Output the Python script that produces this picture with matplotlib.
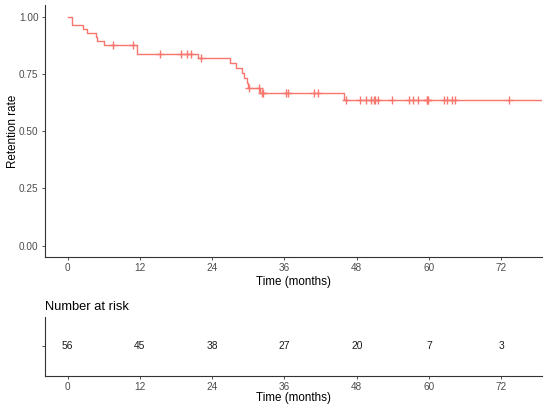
import matplotlib.pyplot as plt
import numpy as np

plt.rcParams['font.family'] = ['Liberation Sans', 'DejaVu Sans']

# Kaplan-Meier steps
step_time = [0, 0.8, 2.5, 3.2, 4.7, 4.9, 6.1, 11.5, 21.7, 27.0, 28.0, 29.0,
             29.35, 29.7, 30.0, 31.9, 45.8, 79.0]
step_surv = [1.0, 0.964, 0.946, 0.929, 0.911, 0.893, 0.875, 0.838, 0.818,
             0.797, 0.775, 0.754, 0.732, 0.711, 0.689, 0.666, 0.637, 0.637]

censor_time = [7.5, 10.9, 15.3, 18.9, 19.8, 20.5, 22.1, 30.1, 31.8, 32.3,
               32.5, 36.2, 36.6, 40.9, 41.5, 46.2, 48.6, 49.5, 50.3, 50.8,
               51.0, 51.6, 53.8, 56.7, 57.4, 58.1, 59.6, 59.7, 59.9, 62.5,
               63.0, 63.8, 64.3, 73.2]

risk_time = [0, 12, 24, 36, 48, 60, 72]
risk_n = [56, 45, 38, 27, 20, 7, 3]

col = '#F8766D'
W, H = 550, 407
fig = plt.figure(figsize=(W / 100, H / 100), dpi=100)

def box(l, t, r, b):
    return [l / W, 1 - b / H, (r - l) / W, (b - t) / H]

xlim = (-3.8, 78.7)

ax = fig.add_axes(box(44.7, 5.2, 541.7, 257.1))
ax.plot(step_time, step_surv, drawstyle='steps-post', color=col, lw=1.0)
idx = np.searchsorted(step_time, censor_time, side='right') - 1
cens_surv = np.array(step_surv)[idx]
ax.plot(censor_time, cens_surv, '+', color=col, ms=5.5, mew=1.0)
ax.set_xlim(*xlim)
ax.set_ylim(-0.05, 1.05)
ax.set_xticks(risk_time)
ax.set_yticks([0, 0.25, 0.5, 0.75, 1.0])
ax.set_yticklabels(['0.00', '0.25', '0.50', '0.75', '1.00'])
ax.set_xlabel('Time (months)', fontsize=8.4, labelpad=2)
ax.set_ylabel('Retention rate', fontsize=8.4, labelpad=0)

tab = fig.add_axes(box(44.7, 316.5, 541.7, 375.5))
for t, n in zip(risk_time, risk_n):
    tab.text(t, 0.5, str(n), ha='center', va='center', fontsize=7.4,
             color='#1a1a1a')
tab.set_xlim(*xlim)
tab.set_ylim(0, 1)
tab.set_xticks(risk_time)
tab.set_yticks([0.5])
tab.set_yticklabels([''])
tab.set_xlabel('Time (months)', fontsize=8.4, labelpad=0.5)
tab.set_title('Number at risk', loc='left', fontsize=9.3, pad=5)

for a in (ax, tab):
    for s in ('top', 'right'):
        a.spines[s].set_visible(False)
    for s in ('left', 'bottom'):
        a.spines[s].set_linewidth(0.8)
        a.spines[s].set_color('#333333')
    a.tick_params(length=2.5, width=0.6, color='#333333', labelsize=7.2,
                  labelcolor='#4D4D4D', pad=2)

fig.savefig('out.png', dpi=100)
